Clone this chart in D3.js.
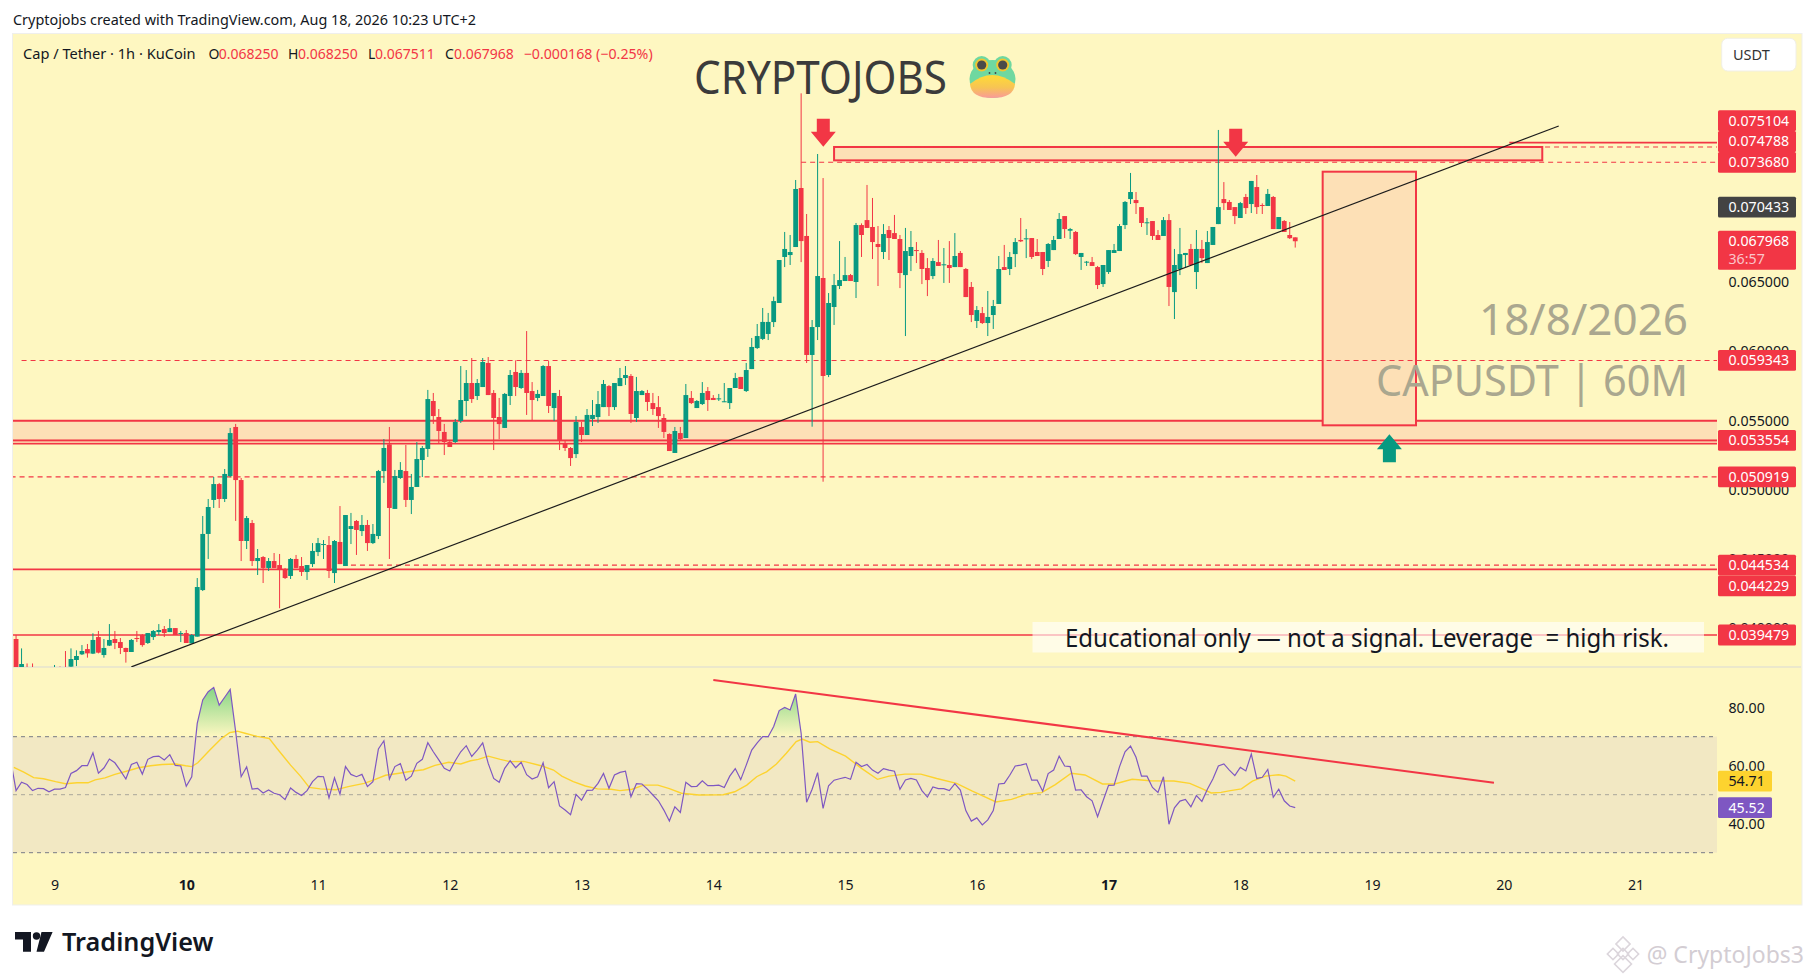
<!DOCTYPE html>
<html>
<head>
	<title>CAPUSDT 1h</title>
	<script type="text/javascript" src="https://d3js.org/d3.v7.min.js"></script>
	<style>
		html, body { margin: 0; padding: 0; background: #fff; overflow: hidden; }
		text { font-family: "Noto Sans", sans-serif; white-space: pre; }
	</style>
</head>
<body>

	<script type="text/javascript">
		// candles are hourly, hour 0 = Aug 9 00:00
		var firstHour = -7;

		var opens = [
			0.03919,0.03697,0.03710,0.03695,0.03670,0.03680,0.03660,0.03690,0.03710,0.03700,
			0.03719,0.03767,0.03808,0.03846,0.03813,0.03933,0.03803,0.03871,0.03919,0.03897,
			0.03854,0.03825,0.03926,0.03948,0.03890,0.03933,0.03969,0.03991,0.03969,0.03998,
			0.03955,0.03962,0.03887,0.03936,0.04273,0.04679,0.04925,0.05040,0.04932,0.05098,
			0.05453,0.05069,0.04628,0.04758,0.04483,0.04512,0.04433,0.04483,0.04454,0.04425,
			0.04375,0.04498,0.04447,0.04404,0.04461,0.04548,0.04604,0.04599,0.04396,0.04621,
			0.04447,0.04715,0.04773,0.04700,0.04744,0.04613,0.04664,0.05134,0.05327,0.04860,
			0.05084,0.05134,0.04925,0.05019,0.05214,0.05294,0.05641,0.05525,0.05417,0.05344,
			0.05344,0.05496,0.05641,0.05771,0.05677,0.05742,0.05916,0.05699,0.05525,0.05446,
			0.05677,0.05851,0.05735,0.05844,0.05713,0.05663,0.05677,0.05894,0.05590,0.05677,
			0.05337,0.05301,0.05257,0.05453,0.05395,0.05511,0.05525,0.05597,0.05749,0.05597,
			0.05749,0.05807,0.05822,0.05518,0.05684,0.05699,0.05626,0.05597,0.05518,0.05402,
			0.05265,0.05409,0.05373,0.05663,0.05590,0.05619,0.05713,0.05663,0.05658,0.05636,
			0.05626,0.05735,0.05815,0.05713,0.05872,0.06024,0.06090,0.06126,0.06212,0.06350,
			0.06683,0.06697,0.06755,0.07182,0.06835,0.05974,0.06176,0.06531,0.05829,0.06321,
			0.06473,0.06509,0.06552,0.06502,0.06914,0.06950,0.06900,0.06777,0.06719,0.06878,
			0.06856,0.06813,0.06552,0.06690,0.06733,0.06712,0.06603,0.06545,0.06646,0.06628,
			0.06625,0.06610,0.06712,0.06596,0.06466,0.06220,0.06277,0.06205,0.06263,0.06343,
			0.06610,0.06596,0.06704,0.06806,0.06815,0.06820,0.06719,0.06719,0.06654,0.06733,
			0.06813,0.06979,0.06873,0.06864,0.06683,0.06647,0.06646,0.06610,0.06487,0.06574,
			0.06712,0.06726,0.06914,0.07102,0.07095,0.07044,0.06931,0.06943,0.06842,0.06835,
			0.06950,0.06429,0.06596,0.06697,0.06741,0.06574,0.06741,0.06639,0.06770,0.06921,
			0.07102,0.07081,0.07044,0.06965,0.07117,0.07066,0.07189,0.07059,0.07052,0.07117,
			0.06885,0.06943,0.06842,0.06825
		];

		var highs = [
			0.03948,0.03851,0.03742,0.03742,0.03710,0.03705,0.03700,0.03731,0.03720,0.03832,
			0.03851,0.03837,0.03875,0.03883,0.03960,0.03977,0.03919,0.04027,0.03977,0.03926,
			0.03856,0.03919,0.03977,0.03955,0.03962,0.03984,0.04027,0.04013,0.04064,0.03998,
			0.03977,0.03984,0.03955,0.04360,0.04809,0.04932,0.05091,0.05048,0.05149,0.05446,
			0.05475,0.05084,0.04809,0.04780,0.04570,0.04519,0.04505,0.04541,0.04534,0.04433,
			0.04505,0.04527,0.04512,0.04454,0.04613,0.04650,0.04635,0.04664,0.04635,0.04881,
			0.04816,0.04831,0.04780,0.04816,0.04780,0.04751,0.05142,0.05366,0.05453,0.05142,
			0.05199,0.05323,0.05113,0.05344,0.05315,0.05721,0.05699,0.05583,0.05475,0.05359,
			0.05511,0.05894,0.05865,0.05952,0.05800,0.05952,0.05959,0.05720,0.05663,0.05699,
			0.05865,0.05935,0.05865,0.06147,0.05778,0.05721,0.05901,0.05930,0.05699,0.05721,
			0.05354,0.05308,0.05532,0.05489,0.05583,0.05648,0.05713,0.05793,0.05756,0.05771,
			0.05880,0.05894,0.05836,0.05815,0.05720,0.05721,0.05699,0.05677,0.05547,0.05407,
			0.05453,0.05453,0.05764,0.05713,0.05648,0.05778,0.05742,0.05684,0.05692,0.05771,
			0.05735,0.05844,0.05815,0.05916,0.06097,0.06198,0.06314,0.06278,0.06396,0.06661,
			0.06864,0.06842,0.07240,0.07867,0.06994,0.06227,0.07428,0.07254,0.06422,0.06560,
			0.06798,0.06683,0.06560,0.06929,0.06926,0.07204,0.07110,0.06907,0.06921,0.06907,
			0.06987,0.06842,0.06893,0.06871,0.06791,0.06733,0.06675,0.06675,0.06806,0.06748,
			0.06798,0.06856,0.06726,0.06603,0.06502,0.06328,0.06321,0.06437,0.06372,0.06690,
			0.06770,0.06719,0.06820,0.06965,0.06885,0.06820,0.06813,0.06719,0.06784,0.06835,
			0.07001,0.06979,0.06893,0.06871,0.06712,0.06654,0.06683,0.06618,0.06625,0.06733,
			0.06777,0.06921,0.07088,0.07291,0.07153,0.07044,0.06965,0.06943,0.06878,0.06972,
			0.06994,0.06741,0.06893,0.06712,0.06777,0.06878,0.06806,0.06871,0.06900,0.07602,
			0.07225,0.07095,0.07044,0.07081,0.07139,0.07233,0.07276,0.07071,0.07175,0.07124,
			0.06972,0.06950,0.06936,0.06825
		];

		var lows = [
			0.03670,0.03660,0.03660,0.03640,0.03630,0.03640,0.03630,0.03650,0.03660,0.03650,
			0.03704,0.03723,0.03803,0.03784,0.03810,0.03815,0.03784,0.03868,0.03846,0.03810,
			0.03748,0.03825,0.03897,0.03863,0.03883,0.03912,0.03948,0.03933,0.03969,0.03948,
			0.03897,0.03890,0.03887,0.03936,0.04266,0.04498,0.04867,0.04867,0.04910,0.05089,
			0.04773,0.04483,0.04570,0.04447,0.04382,0.04324,0.04411,0.04433,0.04141,0.04353,
			0.04353,0.04433,0.04375,0.04346,0.04440,0.04519,0.04498,0.04360,0.04324,0.04461,
			0.04447,0.04606,0.04527,0.04664,0.04556,0.04606,0.04642,0.05048,0.04498,0.04860,
			0.05077,0.04874,0.04823,0.05019,0.05091,0.05236,0.05475,0.05330,0.05250,0.05308,
			0.05337,0.05482,0.05532,0.05627,0.05648,0.05742,0.05684,0.05286,0.05364,0.05446,
			0.05612,0.05677,0.05728,0.05540,0.05503,0.05640,0.05677,0.05554,0.05496,0.05286,
			0.05279,0.05171,0.05228,0.05344,0.05395,0.05460,0.05482,0.05597,0.05532,0.05576,
			0.05749,0.05757,0.05482,0.05489,0.05684,0.05569,0.05540,0.05446,0.05373,0.05279,
			0.05265,0.05359,0.05373,0.05619,0.05590,0.05612,0.05569,0.05648,0.05641,0.05633,
			0.05583,0.05735,0.05728,0.05706,0.05872,0.06017,0.06082,0.06082,0.06176,0.06350,
			0.06610,0.06625,0.06755,0.06646,0.05916,0.05455,0.06082,0.05057,0.05814,0.06191,
			0.06451,0.06509,0.06509,0.06386,0.06683,0.06893,0.06668,0.06473,0.06668,0.06661,
			0.06813,0.06458,0.06111,0.06581,0.06639,0.06487,0.06400,0.06523,0.06618,0.06495,
			0.06495,0.06610,0.06610,0.06393,0.06212,0.06169,0.06198,0.06111,0.06162,0.06343,
			0.06589,0.06552,0.06610,0.06791,0.06675,0.06668,0.06690,0.06552,0.06610,0.06733,
			0.06813,0.06820,0.06813,0.06697,0.06589,0.06618,0.06618,0.06451,0.06466,0.06560,
			0.06712,0.06726,0.06885,0.07066,0.06994,0.06900,0.06842,0.06806,0.06806,0.06835,
			0.06328,0.06234,0.06552,0.06610,0.06625,0.06451,0.06639,0.06639,0.06770,0.06921,
			0.07023,0.07023,0.06921,0.06965,0.06994,0.07001,0.06994,0.06994,0.07052,0.06885,
			0.06885,0.06864,0.06813,0.067511
		];

		var closes = [
			0.03695,0.03738,0.03690,0.03670,0.03680,0.03660,0.03690,0.03710,0.03680,0.03670,
			0.03774,0.03796,0.03832,0.03815,0.03912,0.03820,0.03854,0.03912,0.03890,0.03854,
			0.03825,0.03912,0.03919,0.03875,0.03962,0.03977,0.03984,0.03962,0.03998,0.03948,
			0.03962,0.03890,0.03948,0.04295,0.04679,0.04874,0.05040,0.04932,0.05113,0.05409,
			0.05069,0.04628,0.04794,0.04483,0.04505,0.04433,0.04483,0.04433,0.04418,0.04360,
			0.04498,0.04433,0.04404,0.04454,0.04556,0.04613,0.04606,0.04411,0.04628,0.04461,
			0.04816,0.04736,0.04708,0.04744,0.04613,0.04679,0.05134,0.05301,0.04867,0.05098,
			0.05142,0.04925,0.05019,0.05221,0.05301,0.05655,0.05532,0.05424,0.05344,0.05308,
			0.05489,0.05648,0.05771,0.05655,0.05771,0.05923,0.05684,0.05518,0.05474,0.05692,
			0.05829,0.05742,0.05844,0.05699,0.05648,0.05692,0.05894,0.05605,0.05699,0.05359,
			0.05301,0.05228,0.05489,0.05395,0.05540,0.05540,0.05619,0.05764,0.05597,0.05771,
			0.05807,0.05829,0.05547,0.05713,0.05713,0.05634,0.05583,0.05532,0.05417,0.05279,
			0.05424,0.05366,0.05684,0.05626,0.05641,0.05699,0.05648,0.05648,0.05660,0.05639,
			0.05735,0.05807,0.05728,0.05865,0.06032,0.06111,0.06213,0.06213,0.06364,0.06661,
			0.06741,0.06719,0.07175,0.06798,0.05974,0.06176,0.06545,0.05822,0.06350,0.06480,
			0.06516,0.06552,0.06509,0.06914,0.06842,0.06893,0.06791,0.06755,0.06849,0.06820,
			0.06813,0.06567,0.06726,0.06755,0.06726,0.06596,0.06516,0.06654,0.06618,0.06630,
			0.06603,0.06690,0.06610,0.06393,0.06263,0.06299,0.06205,0.06249,0.06328,0.06596,
			0.06589,0.06683,0.06791,0.06796,0.06818,0.06683,0.06690,0.06596,0.06777,0.06806,
			0.06958,0.06885,0.06885,0.06704,0.06712,0.06649,0.06618,0.06480,0.06625,0.06733,
			0.06733,0.06907,0.07081,0.07153,0.07073,0.06929,0.06934,0.06835,0.06806,0.06950,
			0.06466,0.06625,0.06704,0.06712,0.06625,0.06741,0.06675,0.06791,0.06900,0.07044,
			0.07073,0.07023,0.06979,0.07073,0.07037,0.07233,0.07044,0.07052,0.07139,0.06885,
			0.06972,0.06864,0.06819,0.067968
		];

		// rsi starts one hour before the first visible candle
		var rsiFirstHour = -8;
		var rsiValues = [
			62.0,51.4,54.3,53.5,51.4,52.2,52.1,51.0,51.9,51.9,52.5,57.3,58.3,60.0,60.0,64.4,57.4,59.2,62.3,61.0,
			58.3,55.4,60.4,61.2,57.1,62.2,63.1,63.3,62.0,63.8,60.1,59.9,52.9,56.2,74.6,82.7,85.5,87.0,80.9,83.6,
			86.3,71.7,56.2,59.6,51.9,52.2,50.6,51.6,50.5,50.0,48.3,52.3,50.8,49.7,51.4,54.5,56.3,56.2,48.9,55.8,
			50.2,59.7,57.0,56.2,57.0,52.8,54.5,65.8,68.6,55.4,59.7,60.7,55.0,56.4,60.8,62.2,67.9,64.8,62.0,59.1,
			58.2,61.7,64.8,66.9,63.2,65.4,67.9,60.8,55.6,54.3,59.1,61.7,59.3,61.2,56.9,55.4,56.2,61.0,52.4,54.5,
			46.1,44.7,43.1,50.1,48.1,51.5,51.6,53.9,57.3,52.2,56.8,57.7,58.1,49.3,53.8,53.7,51.9,49.9,47.9,44.7,
			40.9,45.8,43.9,54.3,52.8,52.9,54.8,53.1,53.1,53.3,52.5,56.4,59.0,55.2,60.2,65.4,67.9,70.0,70.0,73.5,
			79.0,80.1,79.2,84.7,71.2,47.4,51.9,57.6,45.3,53.1,55.0,55.5,56.0,55.3,61.2,59.7,60.4,58.5,57.4,59.0,
			58.5,58.1,51.9,55.1,55.6,55.1,51.4,49.2,52.7,52.1,52.1,51.4,53.8,51.6,44.5,40.9,42.0,39.6,41.3,44.5,
			53.7,53.9,56.7,59.9,60.2,60.7,55.0,55.0,51.2,57.3,58.5,63.3,59.9,59.7,51.6,51.7,49.3,47.9,42.4,47.9,
			53.2,53.3,59.7,64.8,66.8,62.9,56.4,56.4,52.5,50.8,56.2,39.8,45.5,47.8,48.4,45.8,49.7,47.7,51.9,55.4,
			59.9,60.6,58.5,56.6,59.4,58.2,64.0,55.6,56.0,58.7,49.1,51.9,47.9,46.1,45.52
		];

		// rsi moving average, read at the bends of the curve
		var rsiMaHours = [
			-7.4,-5.6,-3.8,-2.0,0.2,2.0,4.1,6.1,7.4,9.2,11.0,13.1,15.3,17.5,19.6,22.1,23.9,25.0,26.1,28.3,
			30.4,31.9,33.3,34.7,36.9,39.1,40.5,43.0,44.8,46.4,48.4,51.3,53.5,56.4,58.2,60.3,62.8,65.0,67.2,69.3,
			71.8,74.0,75.8,77.2,79.0,81.2,83.0,85.5,88.8,90.9,92.4,94.5,96.7,98.9,101.4,103.0,105.2,107.3,109.9,112.0,
			114.2,117.4,121.8,123.9,126.1,127.9,129.7,131.5,133.3,135.1,136.2,137.6,139.0,141.2,144.1,147.0,149.9,152.0,154.9,157.8,
			160.7,164.3,167.1,171.5,174.3,177.2,179.8,182.3,185.2,187.7,190.9,193.1,196.3,199.6,203.9,206.8,208.9,210.7,212.5,214.2,
			216.2,218.2,220.6,223.0,224.3,226
		];
		var rsiMaValues = [
			59.4,57.8,55.9,55.5,54.5,53.8,54.1,54.1,55.1,55.8,57.0,58.1,59.3,60.0,60.4,60.6,60.0,59.7,61.0,65.4,
			69.4,71.4,71.9,71.2,70.1,69.4,66.0,60.2,56.4,52.5,52.0,51.7,52.8,53.9,55.1,56.7,57.4,58.1,58.6,60.1,
			61.2,60.6,61.7,62.2,63.3,62.2,61.4,61.5,59.9,58.5,56.4,54.5,53.0,52.0,51.9,51.4,51.9,53.3,53.3,52.1,
			50.5,49.9,50.0,51.0,53.3,56.2,57.9,60.6,64.3,68.3,69.2,68.1,68.3,65.8,63.3,59.1,55.3,56.4,57.1,57.1,
			55.6,53.9,51.3,47.5,48.4,50.2,50.7,53.5,57.4,56.8,53.7,53.7,55.3,54.8,54.7,53.9,52.2,50.6,50.8,51.4,
			52.0,54.7,56.4,56.9,56.4,54.71
		];

		// day ticks
		var dayHours = [0,24,48,72,96,120,144,168,192,216,240,264,288];
		var dayLabels = ["9","10","11","12","13","14","15","16","17","18","19","20","21"];
		var boldDays = ["10","17"];

		var priceTicks = [0.040,0.045,0.050,0.055,0.060,0.065];
		var rsiTicks = [40,60,80];

		// drawn levels
		var solidLevels = [0.075104,0.05332,0.044229,0.039479];
		var solidLevelStart = [265,-8,-8,-8];
		var dashedLevels = [0.074788,0.073680,0.059343,0.050919,0.044534];
		var dashedLevelStart = [142,136,-6,-8,54];

		var lastHour = 303.5;

		// zones: hour from, hour to, price top, price bottom
		var zoneHours = [[142,271],[-8,lastHour],[231,248]];
		var zonePrices = [[0.074788,0.07382],[0.05498,0.053554],[0.07300,0.05465]];

		var trendHours = [14,274];
		var trendPrices = [0.03717,0.07631];
		var rsiTrendHours = [120,262.2];
		var rsiTrendValues = [89.55,54.1];

		// axis tags on the price scale
		var tagValues = ["0.075104","0.074788","0.073680","0.059343","0.053554","0.050919","0.044534","0.044229","0.039479"];
		var legendValues = ["0.068250","0.068250","0.067511","0.067968"];

		var red = "#f23645", green = "#089981", paneBg = "#fef7c1", zoneFill = "#fde0b6", bandFill = "#f2e8c3";
		var axisFont = 14.2;

		var width = 1815, height = 980;
		var paneLeft = 13, paneRight = 1717, paneTop = 34, priceBottom = 667, rsiBottom = 872;

		var x = d3.scaleLinear().domain([0,288]).range([54.5,1635.6]);
		var y = d3.scaleLinear().domain([0.039479,0.07368]).range([635,162.3]);
		var yRsi = d3.scaleLinear().domain([40,80]).range([823.7,707.7]);

		var candles = opens.map(function (o,i){
			return {hour: firstHour + i, open: o, high: highs[i], low: lows[i], close: closes[i]};
		});
		var rsiPoints = rsiValues.map(function (v,i){ return {hour: rsiFirstHour + i, v: v}; });
		var maPoints = rsiMaValues.map(function (v,i){ return {hour: rsiMaHours[i], v: v}; });

		var svg = d3.select("body").append("svg").attr("width",width).attr("height",height).style("display","block");
		var defs = svg.append("defs");

		defs.append("clipPath").attr("id","priceClip").append("rect")
			.attr("x",paneLeft).attr("y",paneTop).attr("width",paneRight - paneLeft).attr("height",priceBottom - paneTop);
		defs.append("clipPath").attr("id","rsiClip").append("rect")
			.attr("x",paneLeft).attr("y",priceBottom).attr("width",paneRight - paneLeft).attr("height",rsiBottom - priceBottom);
		defs.append("clipPath").attr("id","obClip").append("rect")
			.attr("x",paneLeft).attr("y",priceBottom).attr("width",paneRight - paneLeft).attr("height",yRsi(70) - priceBottom);

		var obGrad = defs.append("linearGradient").attr("id","obGrad").attr("gradientUnits","userSpaceOnUse")
			.attr("x1",0).attr("x2",0).attr("y1",yRsi(88)).attr("y2",yRsi(70));
		obGrad.append("stop").attr("offset",0).attr("stop-color","#6fcf7a").attr("stop-opacity",0.9);
		obGrad.append("stop").attr("offset",1).attr("stop-color","#6fcf7a").attr("stop-opacity",0);

		var frogGrad = defs.append("linearGradient").attr("id","frogGrad").attr("x1",0).attr("x2",0).attr("y1",0).attr("y2",1);
		frogGrad.append("stop").attr("offset",0.1).attr("stop-color","#fdd73a");
		frogGrad.append("stop").attr("offset",0.55).attr("stop-color","#f7c454");
		frogGrad.append("stop").attr("offset",1).attr("stop-color","#f99a9a");

		// pane background
		svg.append("rect").attr("x",12.5).attr("y",33.5).attr("width",1789.5).attr("height",871.5)
			.attr("fill",paneBg).attr("stroke","#efefec").attr("stroke-width",1);

		// header
		svg.append("text").attr("x",13).attr("y",25).attr("font-size",14.4).attr("fill","#131722")
			.text("Cryptojobs created with TradingView.com, Aug 18, 2026 10:23 UTC+2");

		// rsi band
		svg.append("rect").attr("x",paneLeft).attr("y",yRsi(70)).attr("width",paneRight - paneLeft)
			.attr("height",yRsi(30) - yRsi(70)).attr("fill",bandFill);

		// price pane divider
		svg.append("line").attr("x1",paneLeft).attr("x2",1801).attr("y1",priceBottom).attr("y2",priceBottom)
			.attr("stroke","#d9d9d6").attr("stroke-width",1);

		var pricePane = svg.append("g").attr("clip-path","url(#priceClip)");

		// zones sit under everything else
		pricePane.selectAll("rect.zone").data(zoneHours).enter().append("rect").attr("class","zone")
			.attr("x",function (d){return x(d[0])})
			.attr("width",function (d){return x(d[1]) - x(d[0])})
			.attr("y",function (d,i){return y(zonePrices[i][0])})
			.attr("height",function (d,i){return y(zonePrices[i][1]) - y(zonePrices[i][0])})
			.attr("fill",zoneFill).attr("stroke",red).attr("stroke-width",2);

		pricePane.selectAll("line.solid").data(solidLevels).enter().append("line").attr("class","solid")
			.attr("x1",function (d,i){return x(solidLevelStart[i])}).attr("x2",x(lastHour))
			.attr("y1",function (d){return y(d)}).attr("y2",function (d){return y(d)})
			.attr("stroke",red).attr("stroke-width",1.7);

		pricePane.selectAll("line.dashed").data(dashedLevels).enter().append("line").attr("class","dashed")
			.attr("x1",function (d,i){return x(dashedLevelStart[i])}).attr("x2",x(lastHour))
			.attr("y1",function (d){return y(d)}).attr("y2",function (d){return y(d)})
			.attr("stroke",red).attr("stroke-width",1.1).attr("stroke-dasharray","5 4");

		// candles
		var candle = pricePane.selectAll("g.candle").data(candles).enter().append("g").attr("class","candle")
			.attr("fill",function (d){return d.close >= d.open ? green : red})
			.attr("stroke",function (d){return d.close >= d.open ? green : red});

		candle.append("line")
			.attr("x1",function (d){return x(d.hour)}).attr("x2",function (d){return x(d.hour)})
			.attr("y1",function (d){return y(d.high)}).attr("y2",function (d){return y(d.low)})
			.attr("stroke-width",1);

		candle.append("rect").attr("stroke","none")
			.attr("x",function (d){return x(d.hour) - 2.4}).attr("width",4.8)
			.attr("y",function (d){return y(Math.max(d.open,d.close))})
			.attr("height",function (d){return Math.max(1,Math.abs(y(d.open) - y(d.close)))});

		// trend line
		pricePane.append("line")
			.attr("x1",x(trendHours[0])).attr("y1",y(trendPrices[0]))
			.attr("x2",x(trendHours[1])).attr("y2",y(trendPrices[1]))
			.attr("stroke","#1c1c1c").attr("stroke-width",1.2);

		// arrows, tip at (cx,tip), dir 1 = pointing down
		function arrow(cx,tip,dir,color){
			var p = [[cx,tip],[cx + 12.5*dir,tip - 15*dir],[cx + 6.5*dir,tip - 15*dir],[cx + 6.5*dir,tip - 28*dir],
				[cx - 6.5*dir,tip - 28*dir],[cx - 6.5*dir,tip - 15*dir],[cx - 12.5*dir,tip - 15*dir]];
			svg.append("polygon").attr("points",p.join(" ")).attr("fill",color);
		}
		arrow(823.3,146.7,1,red);
		arrow(1235.7,156.7,1,red);
		arrow(1389.4,434.3,-1,green);

		// title and frog
		svg.append("text").attr("x",694).attr("y",94).attr("font-size",46).attr("fill","#3b3b3b")
			.attr("textLength",253).attr("lengthAdjust","spacingAndGlyphs").text("CRYPTOJOBS");
		var frog = svg.append("g");
		frog.append("circle").attr("cx",981.7).attr("cy",65).attr("r",9).attr("fill","#6fd8a0");
		frog.append("circle").attr("cx",1002.7).attr("cy",65).attr("r",9).attr("fill","#6fd8a0");
		frog.append("ellipse").attr("cx",992.5).attr("cy",79).attr("rx",23).attr("ry",19).attr("fill","#6fd8a0");
		frog.append("path").attr("d","M970 84 Q992 66 1015 84 Q1014 98 992 98 Q971 98 970 84 Z").attr("fill","url(#frogGrad)");
		frog.append("circle").attr("cx",981.7).attr("cy",65).attr("r",6.5).attr("fill","#f2c52e");
		frog.append("circle").attr("cx",1002.7).attr("cy",65).attr("r",6.5).attr("fill","#f2c52e");
		frog.append("circle").attr("cx",981.7).attr("cy",65).attr("r",4.6).attr("fill","#4a4a4a");
		frog.append("circle").attr("cx",1002.7).attr("cy",65).attr("r",4.6).attr("fill","#4a4a4a");
		frog.append("circle").attr("cx",989.5).attr("cy",73).attr("r",0.9).attr("fill","#444");
		frog.append("circle").attr("cx",995.5).attr("cy",73).attr("r",0.9).attr("fill","#444");

		// big watermark labels
		svg.append("text").attr("x",1688).attr("y",335).attr("text-anchor","end").attr("font-size",44).attr("fill","#aaa78f")
			.attr("textLength",209).attr("lengthAdjust","spacingAndGlyphs").text("18/8/2026");
		svg.append("text").attr("x",1688).attr("y",396).attr("text-anchor","end").attr("font-size",44).attr("fill","#aaa78f")
			.attr("textLength",312).attr("lengthAdjust","spacingAndGlyphs").text("CAPUSDT | 60M");

		// note
		svg.append("rect").attr("x",1032.5).attr("y",622).attr("width",671.5).attr("height",30.5)
			.attr("fill","#fff").attr("fill-opacity",0.62);
		svg.append("text").attr("x",1065).attr("y",647).attr("font-size",25).attr("fill","#131722")
			.attr("textLength",604).attr("lengthAdjust","spacingAndGlyphs")
			.text("Educational only \u2014 not a signal. Leverage  = high risk.");

		// legend line
		var legend = svg.append("text").attr("y",59).attr("font-size",14).attr("fill","#131722");
		legend.append("tspan").attr("x",23).attr("font-size",14.6).text("Cap / Tether \u00b7 1h \u00b7 KuCoin");
		var legendLetters = ["O","H","L","C"];
		var letterX = [208.5,288,368,445], valueX = [218.7,298,375,454];
		legendLetters.forEach(function (l,i){
			legend.append("tspan").attr("x",letterX[i]).text(l);
			legend.append("tspan").attr("x",valueX[i]).attr("fill",red).text(legendValues[i]);
		});
		legend.append("tspan").attr("x",523.7).attr("fill",red).attr("font-size",14.2).text("\u22120.000168 (\u22120.25%)");

		// USDT button
		svg.append("rect").attr("x",1721.7).attr("y",38.3).attr("width",74.3).attr("height",32.7).attr("rx",6)
			.attr("fill","#fff").attr("stroke","#f0efe6");
		svg.append("text").attr("x",1733).attr("y",59.5).attr("font-size",14.5).attr("fill","#333").text("USDT");

		// price axis ticks
		var priceAxis = d3.axisRight(y).tickValues(priceTicks).tickSize(0).tickPadding(0).tickFormat(d3.format(".6f"));
		var priceAxisG = svg.append("g").attr("transform","translate(1728.5,0)").call(priceAxis);
		priceAxisG.select(".domain").remove();
		priceAxisG.selectAll("text").attr("font-size",axisFont).attr("fill","#131722");

		// stacked tags on the price axis: the ones high up push upward, the others downward
		function tag(cy,h,color){
			svg.append("rect").attr("x",1718).attr("y",cy - h/2).attr("width",78).attr("height",h).attr("rx",1.5).attr("fill",color);
		}
		function tagText(cy,s,color){
			svg.append("text").attr("x",1728.5).attr("y",cy).attr("dy","0.35em").attr("font-size",axisFont)
				.attr("fill",color || "#fff").text(s);
		}
		var tagH = 20.8, prevUp = null, prevDown = null;
		var tagUp = tagValues.filter(function (t){ return +t > 0.07 }).reverse();
		var tagDown = tagValues.filter(function (t){ return +t <= 0.07 });
		tagUp.forEach(function (t){
			var cy = y(+t);
			if (prevUp !== null && cy > prevUp - tagH) cy = prevUp - tagH;
			prevUp = cy;
			tag(cy,tagH,red);
			tagText(cy,t);
		});
		tagDown.forEach(function (t){
			var cy = y(+t);
			if (prevDown !== null && cy < prevDown + tagH) cy = prevDown + tagH;
			prevDown = cy;
			tag(cy,tagH,red);
			tagText(cy,t);
		});

		// high-low marker tag and last price with countdown
		tag(y(0.070433),tagH,"#434343");
		tagText(y(0.070433),"0.070433");
		svg.append("rect").attr("x",1718).attr("y",y(0.067968) - 10.4).attr("width",78).attr("height",39).attr("rx",1.5).attr("fill",red);
		tagText(y(0.067968),"0.067968");
		tagText(y(0.067968) + 18,"36:57","#fbc4c9");

		// rsi pane
		var rsiPane = svg.append("g").attr("clip-path","url(#rsiClip)");
		[70,50,30].forEach(function (v){
			rsiPane.append("line").attr("x1",paneLeft).attr("x2",paneRight).attr("y1",yRsi(v)).attr("y2",yRsi(v))
				.attr("stroke",v === 50 ? "#a9a79b" : "#787b86").attr("stroke-width",1).attr("stroke-dasharray","4 4");
		});

		var rsiLine = d3.line().x(function (d){return x(d.hour)}).y(function (d){return yRsi(d.v)});
		var obArea = d3.area().x(function (d){return x(d.hour)}).y0(yRsi(70)).y1(function (d){return yRsi(d.v)});

		rsiPane.append("g").attr("clip-path","url(#obClip)").append("path").datum(rsiPoints)
			.attr("d",obArea).attr("fill","url(#obGrad)");
		rsiPane.append("path").datum(maPoints).attr("d",rsiLine).attr("fill","none").attr("stroke","#fdd32f").attr("stroke-width",1.4);
		rsiPane.append("path").datum(rsiPoints).attr("d",rsiLine).attr("fill","none").attr("stroke","#7e57c2").attr("stroke-width",1.2);

		rsiPane.append("line")
			.attr("x1",x(rsiTrendHours[0])).attr("y1",yRsi(rsiTrendValues[0]))
			.attr("x2",x(rsiTrendHours[1])).attr("y2",yRsi(rsiTrendValues[1]))
			.attr("stroke",red).attr("stroke-width",2);

		var rsiAxis = d3.axisRight(yRsi).tickValues(rsiTicks).tickSize(0).tickPadding(0).tickFormat(d3.format(".2f"));
		var rsiAxisG = svg.append("g").attr("transform","translate(1728.5,0)").call(rsiAxis);
		rsiAxisG.select(".domain").remove();
		rsiAxisG.selectAll("text").attr("font-size",axisFont).attr("fill","#131722");

		svg.append("rect").attr("x",1718).attr("y",yRsi(54.71) - 10.4).attr("width",54).attr("height",20.8).attr("rx",1.5).attr("fill","#fdd32f");
		tagText(yRsi(54.71),"54.71","#131722");
		svg.append("rect").attr("x",1718).attr("y",yRsi(45.52) - 10.4).attr("width",54).attr("height",20.8).attr("rx",1.5).attr("fill","#7e57c2");
		tagText(yRsi(45.52),"45.52");

		// time axis
		var timeAxis = d3.axisBottom(x).tickValues(dayHours).tickSize(0).tickPadding(0)
			.tickFormat(function (d,i){return dayLabels[i]});
		var timeAxisG = svg.append("g").attr("transform","translate(0,880)").call(timeAxis);
		timeAxisG.select(".domain").remove();
		timeAxisG.selectAll("text").attr("font-size",axisFont).attr("fill","#131722")
			.attr("font-weight",function (d,i){return boldDays.indexOf(dayLabels[i]) >= 0 ? 700 : 400});

		// TradingView logo
		svg.append("path").attr("fill","#131722")
			.attr("d","M15 932H31V951.7H23V939.5H15Z M41.5 932H52.6L44 951.7H36.5Z");
		svg.append("circle").attr("cx",36.5).attr("cy",936).attr("r",3.7).attr("fill","#131722");
		svg.append("text").attr("x",62).attr("y",951).attr("font-size",26).attr("font-weight",600).attr("fill","#131722")
			.attr("textLength",151.5).attr("lengthAdjust","spacingAndGlyphs").text("TradingView");

		// site watermark
		var mark = svg.append("g").attr("fill","none").attr("stroke","#dcd6dc").attr("stroke-width",1.6);
		[[1623,944,5],[1613,954,4],[1633,954,4],[1623,954,4],[1623,964,6]].forEach(function (d){
			mark.append("rect").attr("x",d[0] - d[2]).attr("y",d[1] - d[2]).attr("width",2*d[2]).attr("height",2*d[2])
				.attr("transform","rotate(45 " + d[0] + " " + d[1] + ")");
		});
		svg.append("text").attr("x",1646.7).attr("y",963).attr("font-size",23).attr("fill","#d3cdd3").text("@ CryptoJobs3");
	</script>
</body>
</html>
